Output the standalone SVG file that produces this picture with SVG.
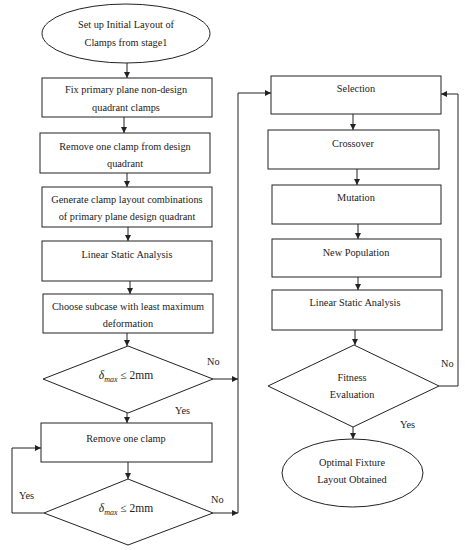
<svg xmlns="http://www.w3.org/2000/svg" width="465" height="550" viewBox="0 0 465 550">
<style>
.n{fill:#fff;stroke:#222;stroke-width:1}
.t{font-family:"Liberation Serif","DejaVu Serif",serif;font-size:10.3px;fill:#222;text-anchor:middle}
.m{font-family:"Liberation Serif","DejaVu Serif",serif;font-size:11.5px;fill:#222;text-anchor:middle}
.c{fill:none;stroke:#222;stroke-width:1}
.l{font-family:"Liberation Serif","DejaVu Serif",serif;font-size:10.3px;fill:#222}
</style>
<defs>
<marker id="a" viewBox="0 0 10 10" refX="10" refY="5" markerWidth="6" markerHeight="6" markerUnits="userSpaceOnUse" orient="auto">
<path d="M0,0L10,5L0,10z" fill="#222"/>
</marker>
</defs>
<rect width="465" height="550" fill="#fff"/>
<g id="connectors">
<path class="c" marker-end="url(#a)" d="M127,63V78"/>
<path class="c" marker-end="url(#a)" d="M124,117V133"/>
<path class="c" marker-end="url(#a)" d="M127,173V187"/>
<path class="c" marker-end="url(#a)" d="M128,227V241"/>
<path class="c" marker-end="url(#a)" d="M130,281V294"/>
<path class="c" marker-end="url(#a)" d="M127,333V346"/>
<path class="c" marker-end="url(#a)" d="M213,379H238"/>
<path class="c" marker-end="url(#a)" d="M127,413V423"/>
<path class="c" marker-end="url(#a)" d="M128,462V479"/>
<path class="c" marker-end="url(#a)" d="M213,513H238"/>
<path class="c" marker-end="url(#a)" d="M44,513H12V448H41"/>
<path class="c" marker-end="url(#a)" d="M238,513V93H271"/>
<path class="c" marker-end="url(#a)" d="M353,114V130"/>
<path class="c" marker-end="url(#a)" d="M357,169V185"/>
<path class="c" marker-end="url(#a)" d="M358,224V239"/>
<path class="c" marker-end="url(#a)" d="M358,277V290"/>
<path class="c" marker-end="url(#a)" d="M355,330V345"/>
<path class="c" marker-end="url(#a)" d="M439,386H458V94H441"/>
<path class="c" marker-end="url(#a)" d="M353,427V439"/>
<text class="l" x="207" y="365">No</text>
<text class="l" x="175" y="414">Yes</text>
<text class="l" x="19" y="499">Yes</text>
<text class="l" x="211" y="503">No</text>
<text class="l" x="441" y="367">No</text>
<text class="l" x="400" y="428">Yes</text>
</g>
<g id="start">
<ellipse class="n" cx="126" cy="33.5" rx="84" ry="29.5"/>
<text class="t" x="126" y="28">Set up Initial Layout of</text>
<text class="t" x="126" y="46">Clamps from stage1</text>
</g>
<g id="fix">
<rect class="n" x="42" y="78" width="170" height="39"/>
<text class="t" x="126" y="93">Fix primary plane non-design</text>
<text class="t" x="126" y="111">quadrant clamps</text>
</g>
<g id="remove1">
<rect class="n" x="40" y="133" width="170" height="40"/>
<text class="t" x="125" y="150">Remove one clamp from design</text>
<text class="t" x="125" y="167">quadrant</text>
</g>
<g id="generate">
<rect class="n" x="42" y="187" width="170" height="40"/>
<text class="t" x="127" y="203">Generate clamp layout combinations</text>
<text class="t" x="127" y="220">of primary plane design quadrant</text>
</g>
<g id="lsa1">
<rect class="n" x="42" y="241" width="170" height="40"/>
<text class="t" x="127" y="258">Linear Static Analysis</text>
</g>
<g id="choose">
<rect class="n" x="43" y="294" width="170" height="39"/>
<text class="t" x="128" y="310">Choose subcase with least maximum</text>
<text class="t" x="128" y="327">deformation</text>
</g>
<g id="dec1">
<polygon class="n" points="128,346 213,379 128,413 43,379"/>
<text class="m" x="126" y="379"><tspan font-style="italic">δ</tspan><tspan font-style="italic" font-size="8" dy="2.5">max</tspan><tspan dy="-2.5"> ≤  2mm</tspan></text>
</g>
<g id="remove2">
<rect class="n" x="41" y="423" width="171" height="39"/>
<text class="t" x="126" y="442">Remove one clamp</text>
</g>
<g id="dec2">
<polygon class="n" points="128,479 213,513 128,545 44,513"/>
<text class="m" x="126" y="512"><tspan font-style="italic">δ</tspan><tspan font-style="italic" font-size="8" dy="2.5">max</tspan><tspan dy="-2.5"> ≤  2mm</tspan></text>
</g>
<g id="selection">
<rect class="n" x="271" y="76" width="170" height="38"/>
<text class="t" x="356" y="92">Selection</text>
</g>
<g id="crossover">
<rect class="n" x="268" y="130" width="171" height="39"/>
<text class="t" x="353" y="147">Crossover</text>
</g>
<g id="mutation">
<rect class="n" x="272" y="185" width="169" height="39"/>
<text class="t" x="356" y="201">Mutation</text>
</g>
<g id="newpop">
<rect class="n" x="272" y="239" width="169" height="38"/>
<text class="t" x="356" y="256">New Population</text>
</g>
<g id="lsa2">
<rect class="n" x="272" y="290" width="170" height="40"/>
<text class="t" x="355" y="306">Linear Static Analysis</text>
</g>
<g id="fitness">
<polygon class="n" points="354,345 439,386 353,427 268,386"/>
<text class="t" x="352" y="381">Fitness</text>
<text class="t" x="352" y="398">Evaluation</text>
</g>
<g id="end">
<ellipse class="n" cx="352.5" cy="473" rx="70.5" ry="34"/>
<text class="t" x="352" y="466">Optimal Fixture</text>
<text class="t" x="352" y="483">Layout Obtained</text>
</g>
</svg>
